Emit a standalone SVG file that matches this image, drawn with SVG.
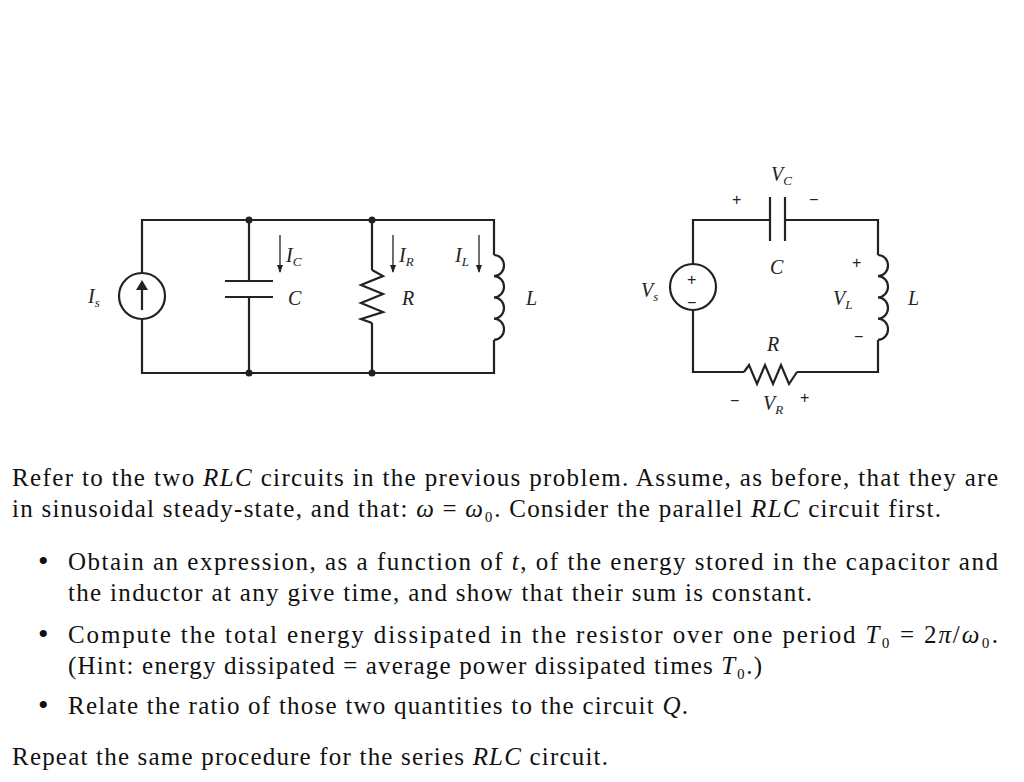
<svg xmlns="http://www.w3.org/2000/svg" width="1024" height="782" viewBox="0 0 1024 782">
<style>
.w{fill:none;stroke:#222;stroke-width:2.2}
.a{fill:none;stroke:#222;stroke-width:1.3}
.t{font-family:"Liberation Serif",serif;font-size:25px;fill:#111}
.m{font-family:"Liberation Serif",serif;font-style:italic;fill:#222;font-size:20px}
.s{font-size:13px}
.p{font-family:"Liberation Sans",sans-serif;font-size:16px;fill:#222}
</style>
<defs><marker id="ah" markerWidth="8" markerHeight="8" refX="7" refY="4" orient="auto" markerUnits="userSpaceOnUse"><path d="M0,1 L8,4 L0,7 Z" fill="#222"/></marker></defs>
<g id="connectors">
<path class="w" d="M142,273 V220 H494 V255 M494,340 V373 H142 V319"/>
<path class="w" d="M249,220 V281 M249,297 V373 M372,220 V270 M372,323 V373"/>
<path class="w" d="M693,264 V220 H770 M785,220 H878 V255 M878,340 V372 H797 M744,372 H693 V310"/>
</g>
<g id="Is"><circle class="w" cx="142" cy="296" r="23"/><path d="M142,310 V286" class="w"/><path d="M136,290 L142,280 L148,290 Z" fill="#222"/><text class="m" x="88" y="303">I<tspan class="s" dy="4">s</tspan></text></g>
<g id="C1"><path class="w" d="M225,281 H273 M225,297 H273"/><text class="m" x="288" y="305">C</text><path class="a" d="M280,235 V272" marker-end="url(#ah)"/><text class="m" x="286" y="262">I<tspan class="s" dy="4">C</tspan></text></g>
<g id="R1"><path class="w" d="M372,270 L383,276 L361,285 L383,294 L361,303 L383,312 L361,319 L372,323"/><text class="m" x="402" y="305">R</text><path class="a" d="M393,235 V272" marker-end="url(#ah)"/><text class="m" x="399" y="262">I<tspan class="s" dy="4">R</tspan></text></g>
<g id="L1"><path class="w" d="M494,255 a10,10.6 0 0 1 0,21.2 a10,10.6 0 0 1 0,21.2 a10,10.6 0 0 1 0,21.2 a10,10.6 0 0 1 0,21.2"/><text class="m" x="526" y="305">L</text><path class="a" d="M479,235 V272" marker-end="url(#ah)"/><text class="m" x="455" y="262">I<tspan class="s" dy="4">L</tspan></text></g>
<circle cx="249" cy="220" r="3.5" fill="#222"/><circle cx="372" cy="220" r="3.5" fill="#222"/><circle cx="249" cy="373" r="3.5" fill="#222"/><circle cx="372" cy="373" r="3.5" fill="#222"/>
<g id="Vs"><circle class="w" cx="693" cy="287" r="23"/><text class="p" x="687" y="285">+</text><text class="p" x="687" y="308">−</text><text class="m" x="641" y="297">V<tspan class="s" dy="4">s</tspan></text></g>
<g id="C2"><path class="w" d="M770,197 V241 M785,197 V241"/><text class="m" x="770" y="274">C</text><text class="m" x="771" y="181">V<tspan class="s" dy="4">C</tspan></text><text class="p" x="732" y="205">+</text><text class="p" x="809" y="205">−</text></g>
<g id="L2"><path class="w" d="M878,255 a10,10.6 0 0 1 0,21.2 a10,10.6 0 0 1 0,21.2 a10,10.6 0 0 1 0,21.2 a10,10.6 0 0 1 0,21.2"/><text class="m" x="908" y="305">L</text><text class="m" x="833" y="305">V<tspan class="s" dy="4">L</tspan></text><text class="p" x="852" y="268">+</text><text class="p" x="854" y="342">−</text></g>
<g id="R2"><path class="w" d="M744,372 L749,365 L757,384 L765,365 L773,384 L781,365 L789,384 L797,372"/><text class="m" x="767" y="351">R</text><text class="m" x="763" y="410">V<tspan class="s" dy="4">R</tspan></text><text class="p" x="730" y="406">−</text><text class="p" x="800" y="403">+</text></g>
<g id="text" class="t">
<text x="12" y="486" textLength="986" lengthAdjust="spacing">Refer to the two <tspan font-style="italic">RLC</tspan> circuits in the previous problem. Assume, as before, that they are</text>
<text x="12" y="517" textLength="929" lengthAdjust="spacing">in sinusoidal steady-state, and that: <tspan font-style="italic">ω</tspan> = <tspan font-style="italic">ω</tspan>₀. Consider the parallel <tspan font-style="italic">RLC</tspan> circuit first.</text>
<text x="38" y="571" font-size="30">•</text><text x="68" y="570" textLength="930" lengthAdjust="spacing">Obtain an expression, as a function of <tspan font-style="italic">t</tspan>, of the energy stored in the capacitor and</text>
<text x="68" y="601" textLength="744" lengthAdjust="spacing">the inductor at any give time, and show that their sum is constant.</text>
<text x="38" y="644" font-size="30">•</text><text x="68" y="643" textLength="930" lengthAdjust="spacing">Compute the total energy dissipated in the resistor over one period <tspan font-style="italic">T</tspan>₀ = 2<tspan font-style="italic">π</tspan>/<tspan font-style="italic">ω</tspan>₀.</text>
<text x="68" y="674" textLength="694" lengthAdjust="spacing">(Hint: energy dissipated = average power dissipated times <tspan font-style="italic">T</tspan>₀.)</text>
<text x="38" y="715" font-size="30">•</text><text x="68" y="714" textLength="620" lengthAdjust="spacing">Relate the ratio of those two quantities to the circuit <tspan font-style="italic">Q</tspan>.</text>
<text x="12" y="765" textLength="596" lengthAdjust="spacing">Repeat the same procedure for the series <tspan font-style="italic">RLC</tspan> circuit.</text>
</g>
</svg>
